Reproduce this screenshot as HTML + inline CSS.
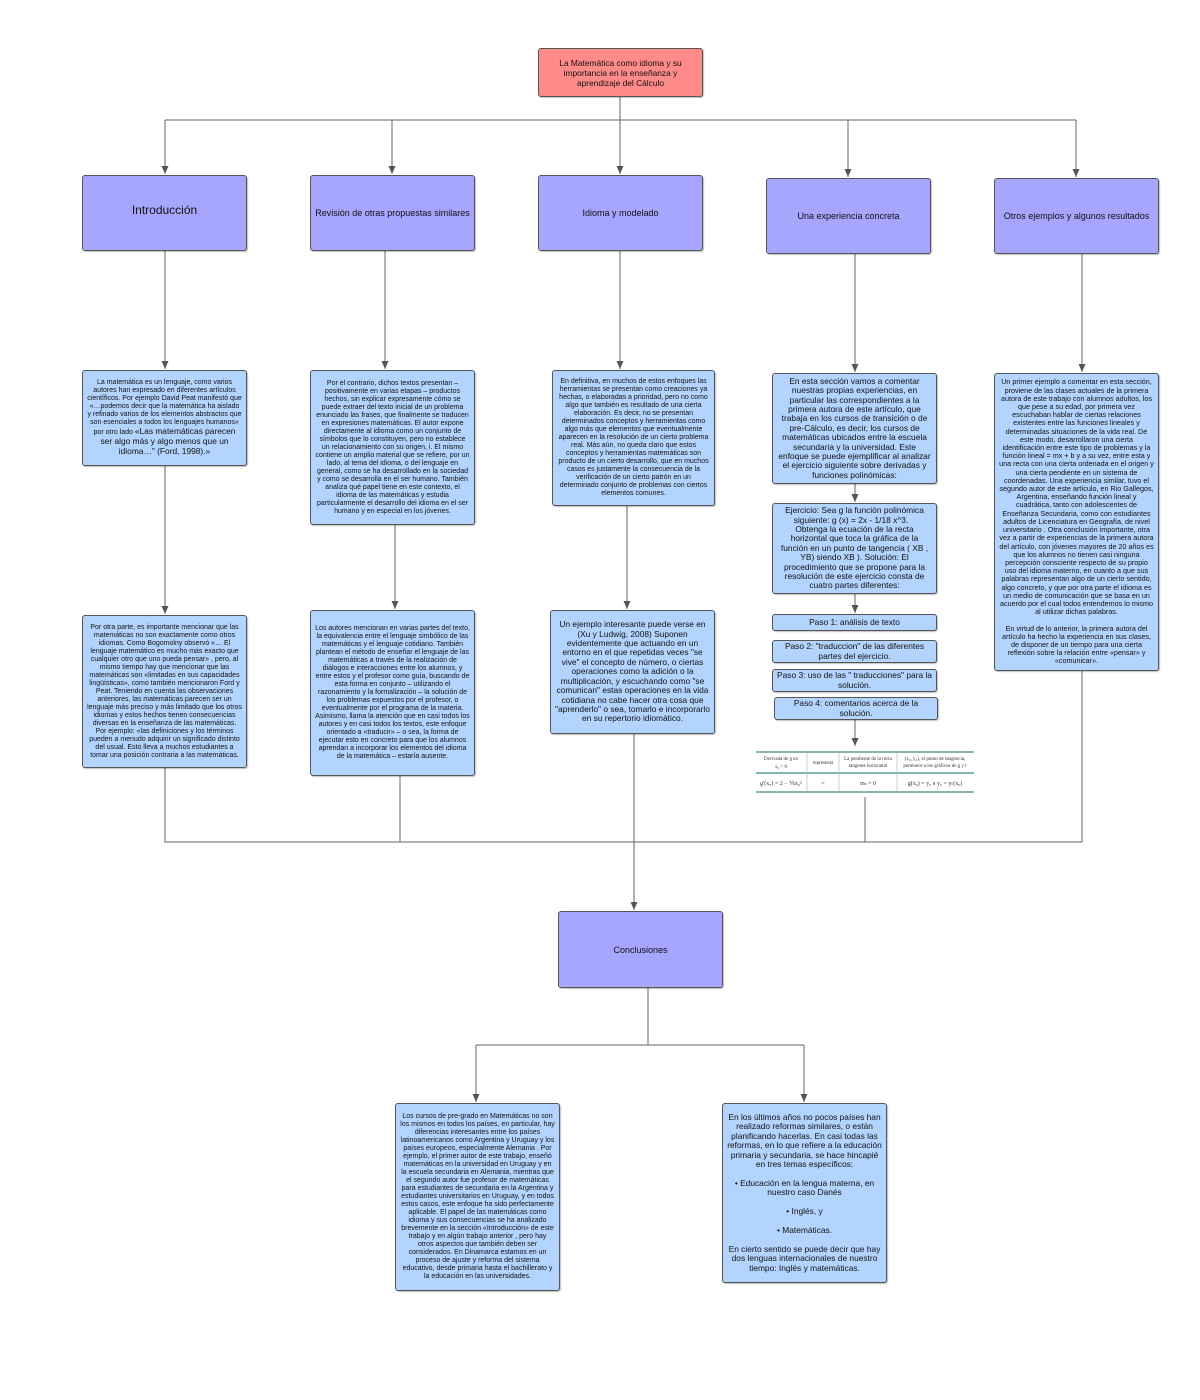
<!DOCTYPE html>
<html><head><meta charset="utf-8"><style>
body{margin:0;width:1200px;height:1400px;background:#fff;position:relative;font-family:"Liberation Sans",sans-serif;color:#111;overflow:hidden}
.b{position:absolute;box-sizing:border-box;border:1.3px solid #555;border-radius:3px;display:flex;align-items:center;justify-content:center;text-align:center;box-shadow:1px 1px 1px rgba(0,0,0,.25)}
.h{background:#a6a6ff;font-size:9px}
.t{background:#b3d4ff;font-size:7px;line-height:8px;padding:0 4px}
.m{font-size:8.4px;line-height:9.4px}
</style></head><body>
<svg width="1200" height="1400" style="position:absolute;left:0;top:0">
<defs><marker id="a" markerWidth="9" markerHeight="8" refX="8" refY="3.5" orient="auto" markerUnits="userSpaceOnUse"><path d="M0,0 L8,3.5 L0,7 z" fill="#555"/></marker></defs>
<g stroke="#666" stroke-width="1" fill="none">
<path d="M620,97 V120"/>
<path d="M165,120 H1076"/>
<path d="M165,120 V174" marker-end="url(#a)"/>
<path d="M392,120 V174" marker-end="url(#a)"/>
<path d="M620,97 V174" marker-end="url(#a)"/>
<path d="M848,120 V177" marker-end="url(#a)"/>
<path d="M1076,120 V177" marker-end="url(#a)"/>
<path d="M165,250 V369" marker-end="url(#a)"/>
<path d="M385,250 V369" marker-end="url(#a)"/>
<path d="M620,250 V369" marker-end="url(#a)"/>
<path d="M855,254 V372" marker-end="url(#a)"/>
<path d="M1082,254 V372" marker-end="url(#a)"/>
<path d="M165,465 V614" marker-end="url(#a)"/>
<path d="M395,524 V609" marker-end="url(#a)"/>
<path d="M627,505 V609" marker-end="url(#a)"/>
<path d="M855,483 V502" marker-end="url(#a)"/>
<path d="M855,593 V613" marker-end="url(#a)"/>
<path d="M855,719 V746" marker-end="url(#a)"/>
<path d="M165,767 V842 H1082 V670"/>
<path d="M400,775 V842"/>
<path d="M865,797 V842"/>
<path d="M634,733 V910" marker-end="url(#a)"/>
<path d="M648,987 V1045"/>
<path d="M476,1045 H804"/>
<path d="M476,1045 V1102" marker-end="url(#a)"/>
<path d="M804,1045 V1102" marker-end="url(#a)"/>
</g>
<g stroke="#3a8a8a" stroke-width="1.2"><path d="M756,752 H974"/><path d="M756,773 H974"/><path d="M756,792 H974"/></g>
<g stroke="#9bb" stroke-width="0.6"><path d="M807,752 V792"/><path d="M839,752 V792"/><path d="M897,752 V792"/></g>
<g font-family="Liberation Serif,serif" font-size="5" fill="#333" text-anchor="middle">
<text x="781" y="760">Derivada de  g  en</text><text x="781" y="768">x₀ &gt; 0</text>
<text x="823" y="764">representa</text>
<text x="868" y="760">La pendiente de la recta</text><text x="868" y="767">tangente horizontal</text>
<text x="935" y="760">(x₀, y₀), el punto de tangencia,</text><text x="935" y="767">pertenece a los gráficos de g y t</text>
<text x="781" y="785" font-size="6">g'(x₀) = 2 − ⅙x₀²</text>
<text x="823" y="785" font-size="6">=</text>
<text x="868" y="785" font-size="6">mₜ = 0</text>
<text x="935" y="785" font-size="6">g(x₀) = y₀  e  y₀ = yₜ(x₀)</text>
</g>
</svg>
<div class="b" style="left:538px;top:48px;width:165px;height:49px;background:#ff8a8a;font-size:8.4px;line-height:10px;padding:0 12px">La Matemática como idioma y su importancia en la enseñanza y aprendizaje del Cálculo</div>
<div class="b h" style="left:82px;top:175px;width:165px;height:76px;font-size:12px;padding-bottom:6px">Introducción</div>
<div class="b h" style="left:310px;top:175px;width:165px;height:76px">Revisión de otras propuestas similares</div>
<div class="b h" style="left:538px;top:175px;width:165px;height:76px">Idioma y modelado</div>
<div class="b h" style="left:766px;top:178px;width:165px;height:76px">Una experiencia concreta</div>
<div class="b h" style="left:994px;top:178px;width:165px;height:76px">Otros ejemplos y algunos resultados</div>

<div class="b t" style="left:82px;top:370px;width:165px;height:96px"><div>La matemática es un lenguaje, como varios autores han expresado en diferentes artículos científicos. Por ejemplo David Peat manifestó que «…podemos decir que la matemática ha aislado y refinado varios de los elementos abstractos que son esenciales a todos los lenguajes humanos» por otro lado <span style="font-size:8.4px;line-height:9.5px">«Las matemáticas parecen ser algo más y algo menos que un idioma…" (Ford, 1998).»</span></div></div>
<div class="b t" style="left:310px;top:370px;width:165px;height:155px">Por el contrario, dichos textos presentan – positivamente en varias etapas – productos hechos, sin explicar expresamente cómo se puede extraer del texto inicial de un problema enunciado las frases, que finalmente se traducen en expresiones matemáticas. El autor expone directamente al idioma como un conjunto de símbolos que lo constituyen, pero no establece un relacionamiento con su origen, i. El mismo contiene un amplio material que se refiere, por un lado, al tema del idioma, o del lenguaje en general, como se ha desarrollado en la sociedad y como se desarrolla en el ser humano. También analiza qué papel tiene en este contexto, el idioma de las matemáticas y estudia particularmente el desarrollo del idioma en el ser humano y en especial en los jóvenes.</div>
<div class="b t" style="left:552px;top:370px;width:163px;height:136px">En definitiva, en muchos de estos enfoques las herramientas se presentan como creaciones ya hechas, o elaboradas a prioridad, pero no como algo que también es resultado de una cierta elaboración. Es decir, no se presentan determinados conceptos y herramientas como algo más que elementos que eventualmente aparecen en la resolución de un cierto problema real. Más aún, no queda claro que estos conceptos y herramientas matemáticas son producto de un cierto desarrollo, que en muchos casos es justamente la consecuencia de la verificación de un cierto patrón en un determinado conjunto de problemas con ciertos elementos comunes.</div>
<div class="b t m" style="left:772px;top:373px;width:165px;height:111px">En esta sección vamos a comentar nuestras propias experiencias, en particular las correspondientes a la primera autora de este artículo, que trabaja en los cursos de transición o de pre-Cálculo, es decir, los cursos de matemáticas ubicados entre la escuela secundaria y la universidad. Este enfoque se puede ejemplificar al analizar el ejercicio siguiente sobre derivadas y funciones polinómicas:</div>
<div class="b t m" style="left:772px;top:503px;width:165px;height:91px">Ejercicio: Sea g la función polinómica siguiente: g (x) = 2x - 1/18 x^3.&nbsp;&nbsp;&nbsp; Obtenga la ecuación de la recta horizontal que toca la gráfica de la función en un punto de tangencia ( XB , YB) siendo XB ). Solución: El procedimiento que se propone para la resolución de este ejercicio consta de cuatro partes diferentes:</div>
<div class="b t m" style="left:772px;top:614px;width:165px;height:17px">Paso 1: análisis de texto</div>
<div class="b t m" style="left:772px;top:640px;width:165px;height:23px">Paso 2: "traduccion" de las diferentes partes del ejercicio.</div>
<div class="b t m" style="left:772px;top:669px;width:165px;height:23px">Paso 3: uso de las " traducciones" para la solución.</div>
<div class="b t m" style="left:774px;top:697px;width:164px;height:23px">Paso 4: comentarios acerca de la solución.</div>
<div class="b t" style="left:994px;top:373px;width:165px;height:298px;font-size:7.2px;line-height:8.2px"><div>Un primer ejemplo a comentar en esta sección, proviene de las clases actuales de la primera autora de este trabajo con alumnos adultos, los que pese a su edad, por primera vez escuchaban hablar de ciertas relaciones existentes entre las funciones lineales y determinadas situaciones de la vida real. De este modo, desarrollaron una cierta identificación entre este tipo de problemas y la función lineal = mx + b y a su vez, entre esta y una recta con una cierta ordenada en el origen y una cierta pendiente en un sistema de coordenadas. Una experiencia similar, tuvo el segundo autor de este artículo, en Rio Gallegos, Argentina, enseñando función lineal y cuadrática, tanto con adolescentes de Enseñanza Secundaria, como con estudiantes adultos de Licenciatura en Geografía, de nivel universitario . Otra conclusión importante, otra vez a partir de experiencias de la primera autora del artículo, con jóvenes mayores de 20 años es que los alumnos no tienen casi ninguna percepción consciente respecto de su propio uso del idioma materno, en cuanto a que sus palabras representan algo de un cierto sentido, algo concreto, y que por otra parte el idioma es un medio de comunicación que se basa en un acuerdo por el cual todos entendemos lo mismo al utilizar dichas palabras.<br><br>En virtud de lo anterior, la primera autora del artículo ha hecho la experiencia en sus clases, de disponer de un tiempo para una cierta reflexión sobre la relación entre «pensar» y «comunicar».</div></div>

<div class="b t" style="left:82px;top:615px;width:165px;height:153px">Por otra parte, es importante mencionar que las matemáticas no son exactamente como otros idiomas. Como Bogomolny observó «… El lenguaje matemático es mucho más exacto que cualquier otro que uno pueda pensar» , pero, al mismo tiempo hay que mencionar que las matemáticas son «limitadas en sus capacidades lingüísticas», como también mencionaron Ford y Peat. Teniendo en cuenta las observaciones anteriores, las matemáticas parecen ser un lenguaje más preciso y más limitado que los otros idiomas y estos hechos tienen consecuencias diversas en la enseñanza de las matemáticas. Por ejemplo: «las definiciones y los términos pueden a menudo adquirir un significado distinto del usual. Esto lleva a muchos estudiantes a tomar una posición contraria a las matemáticas.</div>
<div class="b t" style="left:310px;top:610px;width:165px;height:166px">Los autores mencionan en varias partes del texto, la equivalencia entre el lenguaje simbólico de las matemáticas y el lenguaje cotidiano. También plantean el método de enseñar el lenguaje de las matemáticas a través de la realización de diálogos e interacciones entre los alumnos, y entre estos y el profesor como guía, buscando de esta forma en conjunto – utilizando el razonamiento y la formalización – la solución de los problemas expuestos por el profesor, o eventualmente por el programa de la materia. Asimismo, llama la atención que en casi todos los autores y en casi todos los textos, este enfoque orientado a «traducir» – o sea, la forma de ejecutar esto en concreto para que los alumnos aprendan a incorporar los elementos del idioma de la matemática – estaría ausente.</div>
<div class="b t m" style="left:550px;top:610px;width:165px;height:124px">Un ejemplo interesante puede verse en (Xu y Ludwig, 2008) Suponen evidentemente que actuando en un entorno en el que repetidas veces "se vive" el concepto de número, o ciertas operaciones como la adición o la multiplicación, y escuchando como "se comunican" estas operaciones en la vida cotidiana no cabe hacer otra cosa que "aprenderlo" o sea, tomarlo e incorporarlo en su repertorio idiomático.</div>

<div class="b h" style="left:558px;top:911px;width:165px;height:77px">Conclusiones</div>

<div class="b t" style="left:395px;top:1103px;width:165px;height:188px">Los cursos de pre-grado en Matemáticas no son los mismos en todos los países, en particular, hay diferencias interesantes entre los países latinoamericanos como Argentina y Uruguay y los países europeos, especialmente Alemania . Por ejemplo, el primer autor de este trabajo, enseñó matemáticas en la universidad en Uruguay y en la escuela secundaria en Alemania, mientras que el segundo autor fue profesor de matemáticas para estudiantes de secundaria en la Argentina y estudiantes universitarios en Uruguay, y en todos estos casos, este enfoque ha sido perfectamente aplicable. El papel de las matemáticas como idioma y sus consecuencias se ha analizado brevemente en la sección «Introducción» de este trabajo y en algún trabajo anterior , pero hay otros aspectos que también deben ser considerados. En Dinamarca estamos en un proceso de ajuste y reforma del sistema educativo, desde primaria hasta el bachillerato y la educación en las universidades.</div>
<div class="b t m" style="left:722px;top:1103px;width:165px;height:180px"><div>En los últimos años no pocos países han realizado reformas similares, o están planificando hacerlas. En casi todas las reformas, en lo que refiere a la educación primaria y secundaria, se hace hincapié en tres temas específicos:<br><br>• Educación en la lengua materna, en nuestro caso Danés<br><br>• Inglés, y<br><br>• Matemáticas.<br><br>En cierto sentido se puede decir que hay dos lenguas internacionales de nuestro tiempo: Inglés y matemáticas.</div></div>
</body></html>
